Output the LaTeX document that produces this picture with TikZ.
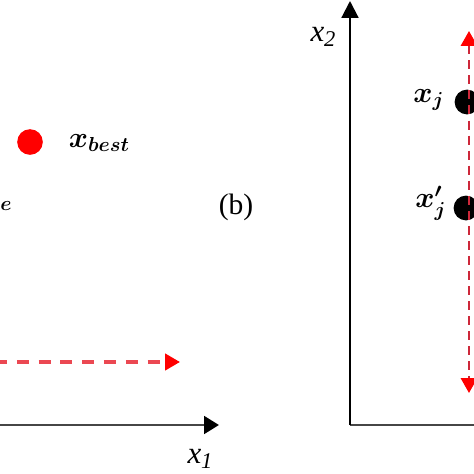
\documentclass[tikz,border=0pt]{standalone}
\usepackage{amsmath}
\usepackage{bm}
\usepackage{fontspec}
\setmainfont{Liberation Serif}
\usetikzlibrary{arrows.meta}
\definecolor{moveA}{RGB}{235,72,82}
\definecolor{moveB}{RGB}{205,40,58}
\definecolor{axisgray}{RGB}{70,70,70}
\tikzset{redtip/.tip={Triangle[length=10.6pt,width=11.5pt,color=red]}}

\begin{document}
\begin{tikzpicture}[x=0.025cm,y=-0.025cm,
  axis/.style={line width=2.1pt, draw=axisgray, -{Triangle[length=10.6pt,width=12.5pt,color=black]}},
  move/.style={line width=2.5pt, draw=moveA, dash pattern=on 8.5pt off 7pt},
  movev/.style={line width=1.8pt, draw=moveB, dash pattern=on 6.4pt off 4.3pt},
  dot/.style={circle, inner sep=0pt, minimum size=0.64cm, fill=#1},
  lab/.style={font=\fontsize{22}{22}\selectfont\itshape},
  vlab/.style={font=\fontsize{20}{20}\selectfont}]
\useasboundingbox (0,0) rectangle (474,474);
% panel (a)
\coordinate (aO) at (-20,425);
\coordinate (aX) at (219,425);
\draw[axis] (aO) -- (aX);
\node[lab] (x1) at (200,459) {x\raisebox{-0.35ex}{\fontsize{16}{16}\selectfont 1}};
\node[dot=red] (best) at (30,142) {};
\node[vlab, anchor=west] (bestlab) at (64,143) {$\bm{x_{best}}$};
\node[vlab, anchor=west, inner sep=0pt] (elab) at (0,206) {\fontsize{14}{14}\selectfont$\bm{e}$};
\coordinate (m0) at (-5,362);
\coordinate (m1) at (180,362);
\draw[move, -{redtip}] (m0) -- (m1);
\node[font=\fontsize{21}{21}\selectfont] (b) at (236,207) {(b)};
% panel (b)
\coordinate (bO) at (350,425);
\coordinate (bY) at (350,1);
\coordinate (bX) at (490,425);
\draw[line width=2.1pt, draw=axisgray] (bX) -- (bO);
\draw[line width=1.5pt, -{Triangle[length=12pt,width=12pt]}] (bO) -- (bY);
\node[lab] (x2) at (323,37) {x\raisebox{-0.35ex}{\fontsize{16}{16}\selectfont 2}};
\node[dot=black, minimum size=0.62cm] (xj) at (467,102) {};
\node[dot=black, minimum size=0.62cm] (xjp) at (466,208) {};
\node[vlab, anchor=east] (xjlab) at (449,100) {$\bm{x_j}$};
\node[vlab, anchor=east] (xjplab) at (451,203) {$\bm{x'_j}$};
\coordinate (v0) at (469,31);
\coordinate (v1) at (469,393);
\draw[movev, {redtip}-{redtip}] (v0) -- (v1);
\end{tikzpicture}
\end{document}
